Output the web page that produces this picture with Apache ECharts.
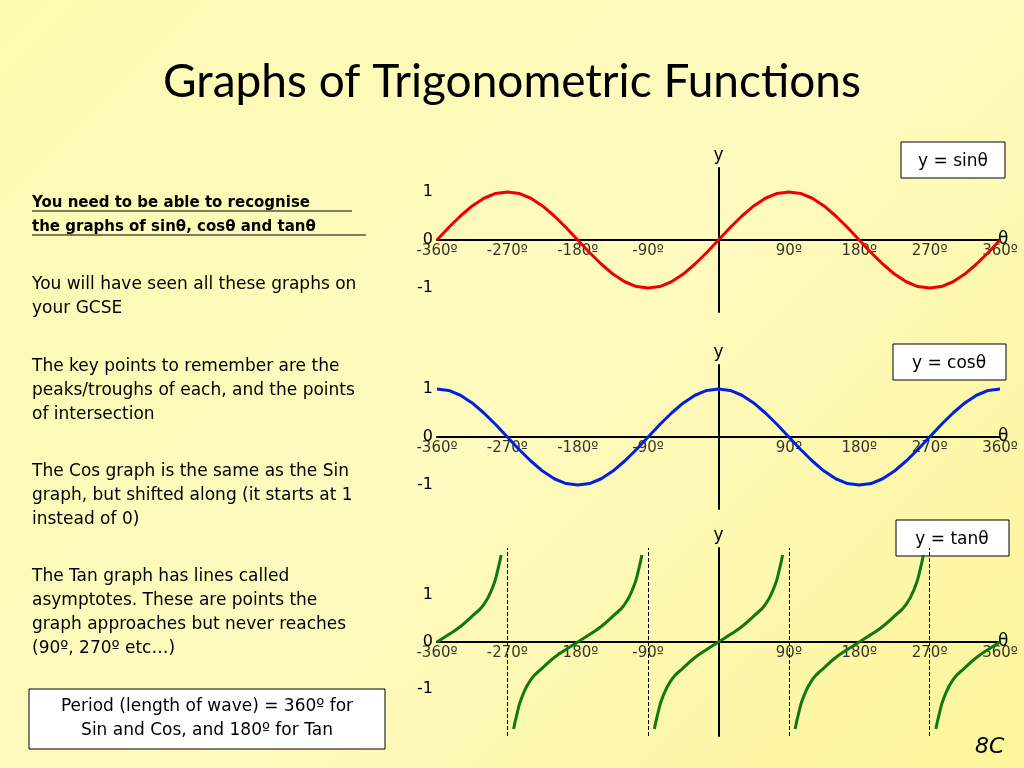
<!DOCTYPE html>
<html><head><meta charset="utf-8">
<script src="https://cdn.jsdelivr.net/npm/echarts@6/dist/echarts.min.js"></script>
<style>html,body{margin:0;padding:0}#c{width:1024px;height:768px;background:linear-gradient(135deg,#fbfbb0 0%,#fffac0 50%,#fbf59a 100%)}</style>
</head><body><div id="c"></div>
<script>
const xTicks = [-360,-270,-180,-90,90,180,270,360];
const angles = [-360,-345,-330,-315,-300,-285,-270,-255,-240,-225,-210,-195,-180,-165,-150,-135,-120,-105,-90,-75,-60,-45,-30,-15,0,15,30,45,60,75,90,105,120,135,150,165,180,195,210,225,240,255,270,285,300,315,330,345,360];
const sinVals = [0,0.26,0.5,0.71,0.87,0.97,1,0.97,0.87,0.71,0.5,0.26,0,-0.26,-0.5,-0.71,-0.87,-0.97,-1,-0.97,-0.87,-0.71,-0.5,-0.26,0,0.26,0.5,0.71,0.87,0.97,1,0.97,0.87,0.71,0.5,0.26,0,-0.26,-0.5,-0.71,-0.87,-0.97,-1,-0.97,-0.87,-0.71,-0.5,-0.26,0];
const cosVals = [1,0.97,0.87,0.71,0.5,0.26,0,-0.26,-0.5,-0.71,-0.87,-0.97,-1,-0.97,-0.87,-0.71,-0.5,-0.26,0,0.26,0.5,0.71,0.87,0.97,1,0.97,0.87,0.71,0.5,0.26,0,-0.26,-0.5,-0.71,-0.87,-0.97,-1,-0.97,-0.87,-0.71,-0.5,-0.26,0,0.26,0.5,0.71,0.87,0.97,1];
const tanOffsets = [-82,-78,-72,-60,-45,-30,-15,0,15,30,45,60,72,78,82];
const tanVals = [-1.85,-1.55,-1.2,-0.8,-0.55,-0.33,-0.16,0,0.16,0.33,0.55,0.8,1.2,1.55,1.85];
const tanCentres = [-360,-180,0,180,360];
const asymptotes = [-270,-90,90,270];

function tanData(){
  const out=[];
  tanCentres.forEach(c=>{
    tanOffsets.forEach((o,i)=>{const x=c+o; if(x>=-360&&x<=360) out.push([x,tanVals[i]]);});
    out.push([c+90,null]);
  });
  return out;
}
const chart = echarts.init(document.getElementById('c'));
function xAx(i){return {type:'value',gridIndex:i,min:-360,max:360,interval:90,
  axisLine:{onZero:true,lineStyle:{color:'#000',width:2}},axisTick:{show:false},splitLine:{show:false},
  name:'θ',nameLocation:'end',nameGap:-2,nameTextStyle:{color:'#000',fontSize:17,fontFamily:'DejaVu Sans',padding:[0,0,22,0]},
  axisLabel:{show:false}};}
function yAx(i,min,max){return {type:'value',gridIndex:i,min:min,max:max,interval:0.5,
  axisLine:{onZero:true,lineStyle:{color:'#000',width:2}},axisTick:{show:false},splitLine:{show:false},
  name:'y',nameLocation:'end',nameGap:4,nameTextStyle:{color:'#000',fontSize:17,fontFamily:'DejaVu Sans'},
  axisLabel:{color:'#000',fontSize:16,fontFamily:'DejaVu Sans',formatter:v=>Number.isInteger(v)&&Math.abs(v)<=1?String(v):'',margin:4}};}
const sinData = angles.map((a,i)=>[a,sinVals[i]]);
const cosData = angles.map((a,i)=>[a,cosVals[i]]);
function tickSeries(i){return {type:'scatter',xAxisIndex:i,yAxisIndex:i,symbolSize:0,silent:true,
  data:xTicks.map(t=>[t,0]),
  label:{show:true,position:'bottom',distance:4,color:'#000',fontSize:15,fontFamily:'DejaVu Sans',formatter:p=>p.value[0]+'º'}};}
const txt=(x,y,t,o={})=>({type:'text',style:Object.assign({x:x,y:y,text:t,fontSize:17,fontFamily:'DejaVu Sans',fill:'#000',lineHeight:24},o)});
chart.setOption({
  animation:false,
  grid:[{left:437,width:563,top:168,height:144},{left:437,width:563,top:365,height:144},{left:437,width:563,top:548,height:188}],
  xAxis:[xAx(0),xAx(1),xAx(2)],
  yAxis:[yAx(0,-1.5,1.5),yAx(1,-1.5,1.5),yAx(2,-2,2)],
  series:[
    {type:'line',xAxisIndex:0,yAxisIndex:0,data:sinData,smooth:false,showSymbol:false,lineStyle:{color:'#ee0000',width:3}},
    {type:'line',xAxisIndex:1,yAxisIndex:1,data:cosData,smooth:false,showSymbol:false,lineStyle:{color:'#0022dd',width:3}},
    {type:'line',xAxisIndex:2,yAxisIndex:2,data:tanData(),smooth:true,connectNulls:false,showSymbol:false,lineStyle:{color:'#117711',width:3},
      markLine:{silent:true,symbol:'none',label:{show:false},lineStyle:{color:'#000',type:'dashed',width:1},data:asymptotes.map(a=>({xAxis:a}))}},
    tickSeries(0),tickSeries(1),tickSeries(2)
  ],
  graphic:[
    txt(512,70,'Graphs of Trigonometric Functions',{fontSize:46,fontFamily:'Lato',textAlign:'center'}),
    txt(32,191,'You need to be able to recognise\nthe graphs of sinθ, cosθ and tanθ',{fontWeight:'bold',fontSize:15}),
    {type:'line',shape:{x1:32,y1:211,x2:352,y2:211},style:{stroke:'#000',lineWidth:1}},
    {type:'line',shape:{x1:32,y1:235,x2:366,y2:235},style:{stroke:'#000',lineWidth:1}},
    txt(32,273,'You will have seen all these graphs on\nyour GCSE'),
    txt(32,355,'The key points to remember are the\npeaks/troughs of each, and the points\nof intersection'),
    txt(32,460,'The Cos graph is the same as the Sin\ngraph, but shifted along (it starts at 1\ninstead of 0)'),
    txt(32,565,'The Tan graph has lines called\nasymptotes. These are points the\ngraph approaches but never reaches\n(90º, 270º etc…)'),
    {type:'rect',shape:{x:29,y:689,width:356,height:60},style:{fill:'#fff',stroke:'#000',lineWidth:1}},
    txt(207,695,'Period (length of wave) = 360º for\nSin and Cos, and 180º for Tan',{textAlign:'center'}),
    {type:'rect',shape:{x:901,y:142,width:104,height:36},style:{fill:'#fff',stroke:'#000',lineWidth:1}},
    txt(953,150,'y = sinθ',{textAlign:'center'}),
    {type:'rect',shape:{x:893,y:344,width:113,height:36},style:{fill:'#fff',stroke:'#000',lineWidth:1}},
    txt(949,352,'y = cosθ',{textAlign:'center'}),
    {type:'rect',shape:{x:896,y:520,width:113,height:36},style:{fill:'#fff',stroke:'#000',lineWidth:1}},
    txt(952,528,'y = tanθ',{textAlign:'center'}),
    txt(975,735,'8C',{fontSize:22,fontStyle:'italic'})
  ]
});
</script></body></html>
